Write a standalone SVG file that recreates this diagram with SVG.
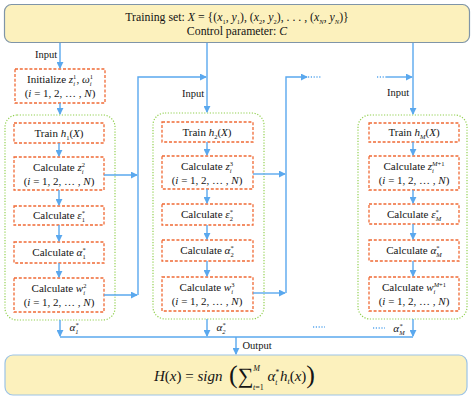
<svg xmlns="http://www.w3.org/2000/svg" width="474" height="400" viewBox="0 0 474 400">
<style>
text{font-family:"Liberation Serif","Times New Roman",serif;font-size:11px;fill:#141414;text-anchor:middle}
.m{font-style:italic}
.s{font-size:6.5px}
.t{font-size:11.8px}
.lab{font-size:10.5px}
.main{fill:#fcf1bd;stroke:#7f95a8;stroke-width:1.2}
.grp{fill:none;stroke:#92d050;stroke-width:1.2;stroke-dasharray:1.2 1.6}
.step{fill:#fff;stroke:#f06a35;stroke-width:1.3;stroke-dasharray:3 1.8}
.c{fill:none;stroke:#5aa8ee;stroke-width:1.4}
.d{fill:none;stroke:#5aa8ee;stroke-width:1.4;stroke-dasharray:1.2 1.6}
</style>
<defs>
<marker id="ah" viewBox="0 0 8 8" refX="7" refY="4" markerWidth="5" markerHeight="5" orient="auto" markerUnits="strokeWidth">
<path d="M0,0 L8,4 L0,8 z" fill="#5aa8ee"/>
</marker>
</defs>

<g id="training-set">
<rect class="main" x="4.5" y="4.5" width="465" height="38" rx="7"/>
<text x="237" y="21" class="t">Training set: <tspan class="m">X</tspan> = {(<tspan class="m">x</tspan><tspan class="s" dy="2.5">1</tspan><tspan dy="-2.5">, </tspan><tspan class="m">y</tspan><tspan class="s" dy="2.5">1</tspan><tspan dy="-2.5">), (</tspan><tspan class="m">x</tspan><tspan class="s" dy="2.5">2</tspan><tspan dy="-2.5">, </tspan><tspan class="m">y</tspan><tspan class="s" dy="2.5">2</tspan><tspan dy="-2.5">), . . . , (</tspan><tspan class="m">x</tspan><tspan class="s m" dy="2.5">N</tspan><tspan dy="-2.5">, </tspan><tspan class="m">y</tspan><tspan class="s m" dy="2.5">N</tspan><tspan dy="-2.5">)}</tspan></text>
<text x="237" y="35" class="t">Control parameter: <tspan class="m">C</tspan></text>
</g>

<g id="group-1"><rect class="grp" x="5" y="115" width="110" height="205" rx="12"/></g>
<g id="group-2"><rect class="grp" x="153" y="113" width="111" height="206" rx="12"/></g>
<g id="group-M"><rect class="grp" x="358" y="115" width="109" height="204" rx="12"/></g>

<g id="init">
<rect class="step" x="15" y="69" width="90" height="34"/>
<text x="60" y="83">Initialize <tspan class="m">z</tspan><tspan class="s" dy="-4.5">1</tspan><tspan class="s m" dx="-3.2" dy="7.5">i</tspan><tspan dx="1.5" dy="-3">, </tspan><tspan class="m">ω</tspan><tspan class="s" dy="-4.5">1</tspan><tspan class="s m" dx="-3.2" dy="7.5">i</tspan></text>
<text x="60" y="97">(<tspan class="m">i</tspan> = 1, 2, … , <tspan class="m">N</tspan>)</text>
</g>

<g id="train-1"><rect class="step" x="14" y="123" width="90" height="20"/><text x="59" y="137">Train <tspan class="m">h</tspan><tspan class="s" dy="2.5">1</tspan><tspan dy="-2.5">(</tspan><tspan class="m">X</tspan>)</text></g>
<g id="calc-z-1"><rect class="step" x="14" y="157" width="90" height="33"/><text x="59" y="171">Calculate <tspan class="m">z</tspan><tspan class="s" dy="-4.5">2</tspan><tspan class="s m" dx="-3.2" dy="7.5">i</tspan></text><text x="59" y="185">(<tspan class="m">i</tspan> = 1, 2, … , <tspan class="m">N</tspan>)</text></g>
<g id="calc-eps-1"><rect class="step" x="14" y="206" width="90" height="19"/><text x="59" y="219">Calculate <tspan class="m">ε</tspan><tspan class="s" dy="-4.5">*</tspan><tspan class="s" dx="-3.2" dy="7.5">1</tspan></text></g>
<g id="calc-alpha-1"><rect class="step" x="14" y="242" width="90" height="21"/><text x="59" y="256">Calculate <tspan class="m">α</tspan><tspan class="s" dy="-4.5">*</tspan><tspan class="s" dx="-3.2" dy="7.5">1</tspan></text></g>
<g id="calc-w-1"><rect class="step" x="14" y="278" width="90" height="34"/><text x="59" y="292">Calculate <tspan class="m">w</tspan><tspan class="s" dy="-4.5">2</tspan><tspan class="s m" dx="-3.2" dy="7.5">i</tspan></text><text x="59" y="306">(<tspan class="m">i</tspan> = 1, 2, … , <tspan class="m">N</tspan>)</text></g>

<g id="train-2"><rect class="step" x="162" y="122" width="91" height="20"/><text x="207" y="136">Train <tspan class="m">h</tspan><tspan class="s" dy="2.5">2</tspan><tspan dy="-2.5">(</tspan><tspan class="m">X</tspan>)</text></g>
<g id="calc-z-2"><rect class="step" x="162" y="156" width="91" height="33"/><text x="207" y="170">Calculate <tspan class="m">z</tspan><tspan class="s" dy="-4.5">3</tspan><tspan class="s m" dx="-3.2" dy="7.5">i</tspan></text><text x="207" y="184">(<tspan class="m">i</tspan> = 1, 2, … , <tspan class="m">N</tspan>)</text></g>
<g id="calc-eps-2"><rect class="step" x="162" y="204" width="91" height="21"/><text x="207" y="218">Calculate <tspan class="m">ε</tspan><tspan class="s" dy="-4.5">*</tspan><tspan class="s" dx="-3.2" dy="7.5">2</tspan></text></g>
<g id="calc-alpha-2"><rect class="step" x="162" y="240" width="91" height="21"/><text x="207" y="254">Calculate <tspan class="m">α</tspan><tspan class="s" dy="-4.5">*</tspan><tspan class="s" dx="-3.2" dy="7.5">2</tspan></text></g>
<g id="calc-w-2"><rect class="step" x="162" y="277" width="91" height="34"/><text x="207" y="291">Calculate <tspan class="m">w</tspan><tspan class="s" dy="-4.5">3</tspan><tspan class="s m" dx="-3.2" dy="7.5">i</tspan></text><text x="207" y="305">(<tspan class="m">i</tspan> = 1, 2, … , <tspan class="m">N</tspan>)</text></g>

<g id="train-M"><rect class="step" x="369" y="123" width="90" height="19"/><text x="414" y="136">Train <tspan class="m">h</tspan><tspan class="s m" dy="2.5">M</tspan><tspan dy="-2.5">(</tspan><tspan class="m">X</tspan>)</text></g>
<g id="calc-z-M"><rect class="step" x="369" y="156" width="90" height="34"/><text x="414" y="170">Calculate <tspan class="m">z</tspan><tspan class="s m" dy="-4.5">M</tspan><tspan class="s">+1</tspan><tspan class="s m" dx="-12.5" dy="7.5">i</tspan><tspan class="s" dx="9" fill="none"> </tspan></text><text x="414" y="184">(<tspan class="m">i</tspan> = 1, 2, … , <tspan class="m">N</tspan>)</text></g>
<g id="calc-eps-M"><rect class="step" x="369" y="204" width="90" height="20"/><text x="414" y="218">Calculate <tspan class="m">ε</tspan><tspan class="s" dy="-4.5">*</tspan><tspan class="s m" dx="-3.2" dy="7.5">M</tspan></text></g>
<g id="calc-alpha-M"><rect class="step" x="369" y="240" width="90" height="21"/><text x="414" y="254">Calculate <tspan class="m">α</tspan><tspan class="s" dy="-4.5">*</tspan><tspan class="s m" dx="-3.2" dy="7.5">M</tspan></text></g>
<g id="calc-w-M"><rect class="step" x="369" y="277" width="90" height="34"/><text x="414" y="291">Calculate <tspan class="m">w</tspan><tspan class="s m" dy="-4.5">M</tspan><tspan class="s">+1</tspan><tspan class="s m" dx="-12.5" dy="7.5">i</tspan><tspan class="s" dx="9" fill="none"> </tspan></text><text x="414" y="305">(<tspan class="m">i</tspan> = 1, 2, … , <tspan class="m">N</tspan>)</text></g>

<g id="output-H">
<rect class="main" x="5" y="355" width="462" height="40" rx="8" style="stroke:#9cc3e6"/>
<text x="154" y="381" style="font-size:15px;text-anchor:start"><tspan class="m">H</tspan>(<tspan class="m">x</tspan>) = <tspan class="m">sign</tspan><tspan style="font-size:26px" dy="2"> (</tspan><tspan style="font-size:22px" dy="0">∑</tspan><tspan class="m" style="font-size:8px" dy="-12">M</tspan><tspan class="m" style="font-size:8px" dx="-7" dy="19">t</tspan><tspan style="font-size:8px">=1</tspan><tspan class="m" dy="-9"> α</tspan><tspan style="font-size:7.5px" dy="-6">*</tspan><tspan class="m" style="font-size:7.5px" dx="-3.8" dy="10">t</tspan><tspan class="m" dx="2.5" dy="-4">h</tspan><tspan class="m" style="font-size:8px" dy="3">t</tspan><tspan dy="-3">(</tspan><tspan class="m">x</tspan>)<tspan style="font-size:26px" dy="2">)</tspan></text>
</g>

<g id="connectors">
<path class="c" d="M60,43 V68" marker-end="url(#ah)"/>
<path class="c" d="M60,103 V114" marker-end="url(#ah)"/>
<path class="c" d="M59,143 V156" marker-end="url(#ah)"/>
<path class="c" d="M59,190 V205" marker-end="url(#ah)"/>
<path class="c" d="M59,225 V241" marker-end="url(#ah)"/>
<path class="c" d="M59,263 V277" marker-end="url(#ah)"/>
<path class="c" d="M60,320 V336" marker-end="url(#ah)"/>

<path class="c" d="M207,43 V112" marker-end="url(#ah)"/>
<path class="c" d="M207,142 V155" marker-end="url(#ah)"/>
<path class="c" d="M207,189 V203" marker-end="url(#ah)"/>
<path class="c" d="M207,225 V239" marker-end="url(#ah)"/>
<path class="c" d="M207,261 V276" marker-end="url(#ah)"/>
<path class="c" d="M207,319 V336" marker-end="url(#ah)"/>

<path class="c" d="M413,43 V114" marker-end="url(#ah)"/>
<path class="c" d="M413,142 V155" marker-end="url(#ah)"/>
<path class="c" d="M413,190 V203" marker-end="url(#ah)"/>
<path class="c" d="M413,224 V239" marker-end="url(#ah)"/>
<path class="c" d="M413,261 V276" marker-end="url(#ah)"/>
<path class="c" d="M413,319 V336" marker-end="url(#ah)"/>

<path class="c" d="M104,175 H137" marker-end="url(#ah)"/>
<path class="c" d="M104,295 H137" marker-end="url(#ah)"/>
<path class="c" d="M138,295 V77 H206" marker-end="url(#ah)"/>

<path class="c" d="M253,174 H285" marker-end="url(#ah)"/>
<path class="c" d="M253,293 H285" marker-end="url(#ah)"/>
<path class="c" d="M286,293 V77 H307" marker-end="url(#ah)"/>
<path class="d" d="M308,77 H321"/>
<path class="d" d="M377,77 H386"/>
<path class="c" d="M386,77 H412" marker-end="url(#ah)"/>

<path class="c" d="M60,337 H413"/>
<path class="c" d="M236,337 V354" marker-end="url(#ah)"/>
<path class="d" d="M313,327 H325"/>
<path class="d" d="M373,328 H385"/>
</g>

<g id="labels">
<text x="46" y="58" class="lab">Input</text>
<text x="193" y="97" class="lab">Input</text>
<text x="398" y="96" class="lab">Input</text>
<text x="257" y="349" class="lab">Output</text>
<text x="74" y="331" class="m">α<tspan class="s" dy="-4.5">*</tspan><tspan class="s" dx="-3.2" dy="7.5">1</tspan></text>
<text x="221" y="331" class="m">α<tspan class="s" dy="-4.5">*</tspan><tspan class="s" dx="-3.2" dy="7.5">2</tspan></text>
<text x="399" y="332" class="m">α<tspan class="s" dy="-4.5">*</tspan><tspan class="s m" dx="-3.2" dy="7.5">M</tspan></text>
</g>
</svg>
